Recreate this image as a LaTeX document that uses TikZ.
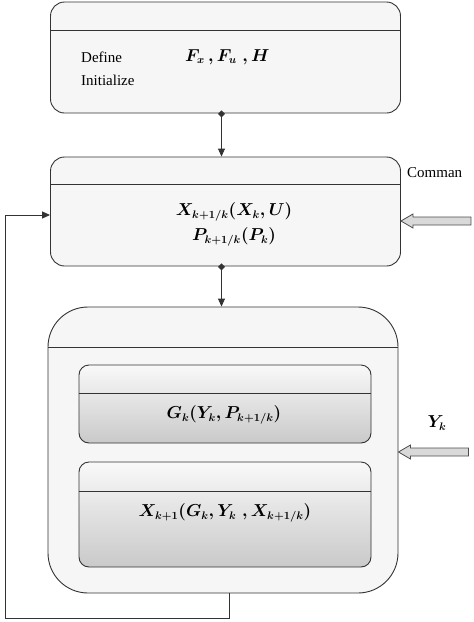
\documentclass[tikz,border=0pt]{standalone}
\usepackage{fontspec}
\setmainfont{Liberation Serif}
\usetikzlibrary{positioning, arrows.meta}

\tikzset{
  block/.style={draw=black!80, line width=0.9pt, fill=gray!7, rounded corners=14pt, minimum width=350pt},
  inner/.style={draw=black!80, line width=0.9pt, rounded corners=10pt, minimum width=292pt, top color=gray!5, bottom color=gray!42},
  divider/.style={draw=black!80, line width=0.9pt},
  link/.style={draw=black!80, line width=0.9pt, shorten <=-3pt, {Diamond[length=7pt,width=7pt]}-{Triangle[length=8pt,width=7pt]}},
  feed/.style={draw=black!80, line width=0.9pt, -{Triangle[length=8pt,width=7pt]}},
  inarrow/.pic={
    \draw[draw=black!70, line width=0.8pt, fill=gray!30]
      (0,0) -- (12,-7) -- (12,-4) -- (70,-4) -- (70,4) -- (12,4) -- (12,7) -- cycle;
  },
  txt/.style={font=\fontsize{15pt}{18pt}\selectfont, inner sep=0pt},
  eq/.style={font=\fontsize{16pt}{19pt}\selectfont\boldmath, inner sep=0pt}
}

\begin{document}
\begin{tikzpicture}[x=1pt, y=-1pt]
  \useasboundingbox (0,0) rectangle (474,622);

  % Define / Initialize
  \node[block, minimum height=111pt] (init) at (225.5,57.5) {};
  \draw[divider] ([yshift=-29pt]init.north west) -- ([yshift=-29pt]init.north east);
  \node[txt, anchor=west] (def) at (81,57) {Define};
  \node[txt, anchor=west] (ini) at (81,80) {Initialize};
  \node[eq, anchor=west] (mat) at (185,57) {$F_x\,,F_u\;,H$};

  % Prediction
  \node[block, minimum height=109pt] (pred) at (225.5,211.5) {};
  \draw[divider] ([yshift=-28pt]pred.north west) -- ([yshift=-28pt]pred.north east);
  \node[eq] (predx) at (234,212) {$X_{k+1/k}(X_k,U)$};
  \node[eq] (predp) at (234,237) {$P_{k+1/k}(P_k)$};
  \node[txt, anchor=west] (cmd) at (407,173) {Comman};
  \pic at (pred.east |- 0,221) {inarrow};

  % Correction
  \node[block, rounded corners=40pt, minimum height=286pt] (corr) at (223,450) {};
  \draw[divider] ([yshift=-41pt]corr.north west) -- ([yshift=-41pt]corr.north east);

  \node[inner, minimum height=78pt] (gainbox) at (225,404) {};
  \draw[divider] ([yshift=-29pt]gainbox.north west) -- ([yshift=-29pt]gainbox.north east);
  \node[eq] (gain) at (224,415) {$G_k(Y_k,P_{k+1/k})$};

  \node[inner, minimum height=105pt] (updbox) at (225,514.5) {};
  \draw[divider] ([yshift=-30pt]updbox.north west) -- ([yshift=-30pt]updbox.north east);
  \node[eq] (upd) at (225,513) {$X_{k+1}\big(G_k,Y_k\;,X_{k+1/k}\big)$};

  \node[eq] (meas) at (437,423) {$Y_k$};
  \pic at (corr.east |- 0,452) {inarrow};

  % Connectors
  \draw[link] ([xshift=-4pt]init.south) -- ([xshift=-4pt]pred.north);
  \draw[link] ([xshift=-4pt]pred.south) -- ([xshift=-4pt]pred.south |- corr.north);
  \coordinate (fb) at (5,618);
  \draw[feed] ([xshift=6pt]corr.south) |- (fb) |- ([yshift=-3.5pt]pred.west);
\end{tikzpicture}
\end{document}
